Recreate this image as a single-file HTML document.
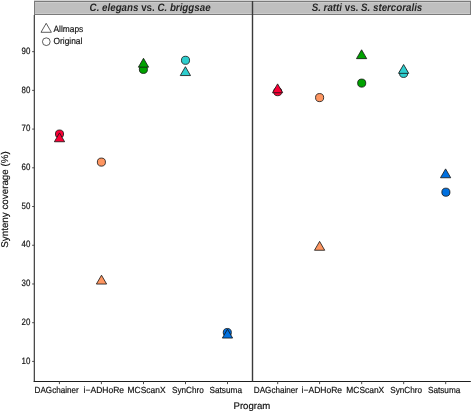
<!DOCTYPE html>
<html><head><meta charset="utf-8"><title>Synteny coverage</title><style>
html,body{margin:0;padding:0;background:#fff;}
body{width:472px;height:412px;overflow:hidden;}
svg{display:block;}
text{font-family:"Liberation Sans",Arial,Helvetica,sans-serif;text-rendering:geometricPrecision;;stroke-width:0.18px;}
.tk,.lg,.ti{stroke:#111;}
.tk{fill:#111;}
.lg{fill:#111;}
.ti{fill:#111;}
.st{font-weight:bold;font-style:italic;fill:#262626;}
</style></head><body>
<svg width="472" height="412" viewBox="0 0 472 412">
<rect width="472" height="412" fill="#fff"/>
<rect x="34" y="0" width="437" height="1.2" fill="#d2d2d2"/>
<rect x="34.50" y="1.50" width="218.00" height="13.00" fill="#BFBFBF" stroke="#7a7a7a" stroke-width="1.00"/>
<rect x="252.50" y="1.50" width="218.00" height="13.00" fill="#BFBFBF" stroke="#7a7a7a" stroke-width="1.00"/>
<rect x="35.00" y="2.0" width="217.00" height="1.0" fill="#cdcdcd"/>
<rect x="35.00" y="13.0" width="217.00" height="1.0" fill="#cbcbcb"/>
<rect x="253.00" y="2.0" width="217.00" height="1.0" fill="#cdcdcd"/>
<rect x="253.00" y="13.0" width="217.00" height="1.0" fill="#cbcbcb"/>
<text x="89.60" y="11.00" font-size="10.80" class="st" textLength="121.00" lengthAdjust="spacingAndGlyphs"><tspan>C. elegans</tspan><tspan font-style="normal"> vs. </tspan><tspan>C. briggsae</tspan></text>
<text x="311.70" y="11.00" font-size="10.80" class="st" textLength="110.60" lengthAdjust="spacingAndGlyphs"><tspan>S. ratti</tspan><tspan font-style="normal"> vs. </tspan><tspan>S. stercoralis</tspan></text>
<line x1="34.35" y1="15" x2="34.35" y2="382.10" stroke="#4a4a4a" stroke-width="1.30"/>
<line x1="33.70" y1="381.45" x2="470.8" y2="381.45" stroke="#1e1e1e" stroke-width="1.10"/>
<line x1="252.50" y1="1" x2="252.50" y2="381.45" stroke="#3a3a3a" stroke-width="1.40"/>
<line x1="32.15" y1="51.65" x2="34.35" y2="51.65" stroke="#4a4a4a" stroke-width="1.00"/>
<text x="30.30" y="53.85" font-size="9.20" class="tk" text-anchor="end" textLength="8.80" lengthAdjust="spacingAndGlyphs">90</text>
<line x1="32.15" y1="90.37" x2="34.35" y2="90.37" stroke="#4a4a4a" stroke-width="1.00"/>
<text x="30.30" y="92.57" font-size="9.20" class="tk" text-anchor="end" textLength="8.80" lengthAdjust="spacingAndGlyphs">80</text>
<line x1="32.15" y1="129.09" x2="34.35" y2="129.09" stroke="#4a4a4a" stroke-width="1.00"/>
<text x="30.30" y="131.29" font-size="9.20" class="tk" text-anchor="end" textLength="8.80" lengthAdjust="spacingAndGlyphs">70</text>
<line x1="32.15" y1="167.81" x2="34.35" y2="167.81" stroke="#4a4a4a" stroke-width="1.00"/>
<text x="30.30" y="170.01" font-size="9.20" class="tk" text-anchor="end" textLength="8.80" lengthAdjust="spacingAndGlyphs">60</text>
<line x1="32.15" y1="206.53" x2="34.35" y2="206.53" stroke="#4a4a4a" stroke-width="1.00"/>
<text x="30.30" y="208.73" font-size="9.20" class="tk" text-anchor="end" textLength="8.80" lengthAdjust="spacingAndGlyphs">50</text>
<line x1="32.15" y1="245.25" x2="34.35" y2="245.25" stroke="#4a4a4a" stroke-width="1.00"/>
<text x="30.30" y="247.45" font-size="9.20" class="tk" text-anchor="end" textLength="8.80" lengthAdjust="spacingAndGlyphs">40</text>
<line x1="32.15" y1="283.97" x2="34.35" y2="283.97" stroke="#4a4a4a" stroke-width="1.00"/>
<text x="30.30" y="286.17" font-size="9.20" class="tk" text-anchor="end" textLength="8.80" lengthAdjust="spacingAndGlyphs">30</text>
<line x1="32.15" y1="322.69" x2="34.35" y2="322.69" stroke="#4a4a4a" stroke-width="1.00"/>
<text x="30.30" y="324.89" font-size="9.20" class="tk" text-anchor="end" textLength="8.80" lengthAdjust="spacingAndGlyphs">20</text>
<line x1="32.15" y1="361.41" x2="34.35" y2="361.41" stroke="#4a4a4a" stroke-width="1.00"/>
<text x="30.30" y="363.61" font-size="9.20" class="tk" text-anchor="end" textLength="8.80" lengthAdjust="spacingAndGlyphs">10</text>
<line x1="59.40" y1="381.45" x2="59.40" y2="384.15" stroke="#4a4a4a" stroke-width="1.00"/>
<text x="34.60" y="392.85" font-size="8.85" class="tk" textLength="44.20" lengthAdjust="spacingAndGlyphs">DAGchainer</text>
<line x1="101.40" y1="381.45" x2="101.40" y2="384.15" stroke="#4a4a4a" stroke-width="1.00"/>
<text x="83.60" y="392.85" font-size="8.85" class="tk" textLength="40.50" lengthAdjust="spacingAndGlyphs">i−ADHoRe</text>
<line x1="143.50" y1="381.45" x2="143.50" y2="384.15" stroke="#4a4a4a" stroke-width="1.00"/>
<text x="127.60" y="392.85" font-size="8.85" class="tk" textLength="37.90" lengthAdjust="spacingAndGlyphs">MCScanX</text>
<line x1="185.50" y1="381.45" x2="185.50" y2="384.15" stroke="#4a4a4a" stroke-width="1.00"/>
<text x="172.00" y="392.85" font-size="8.85" class="tk" textLength="31.80" lengthAdjust="spacingAndGlyphs">SynChro</text>
<line x1="227.50" y1="381.45" x2="227.50" y2="384.15" stroke="#4a4a4a" stroke-width="1.00"/>
<text x="209.50" y="392.85" font-size="8.85" class="tk" textLength="32.50" lengthAdjust="spacingAndGlyphs">Satsuma</text>
<line x1="277.70" y1="381.45" x2="277.70" y2="384.15" stroke="#4a4a4a" stroke-width="1.00"/>
<text x="253.80" y="392.85" font-size="8.85" class="tk" textLength="44.20" lengthAdjust="spacingAndGlyphs">DAGchainer</text>
<line x1="319.60" y1="381.45" x2="319.60" y2="384.15" stroke="#4a4a4a" stroke-width="1.00"/>
<text x="301.60" y="392.85" font-size="8.85" class="tk" textLength="40.50" lengthAdjust="spacingAndGlyphs">i−ADHoRe</text>
<line x1="361.70" y1="381.45" x2="361.70" y2="384.15" stroke="#4a4a4a" stroke-width="1.00"/>
<text x="346.30" y="392.85" font-size="8.85" class="tk" textLength="37.90" lengthAdjust="spacingAndGlyphs">MCScanX</text>
<line x1="403.70" y1="381.45" x2="403.70" y2="384.15" stroke="#4a4a4a" stroke-width="1.00"/>
<text x="390.20" y="392.85" font-size="8.85" class="tk" textLength="31.80" lengthAdjust="spacingAndGlyphs">SynChro</text>
<line x1="445.70" y1="381.45" x2="445.70" y2="384.15" stroke="#4a4a4a" stroke-width="1.00"/>
<text x="427.90" y="392.85" font-size="8.85" class="tk" textLength="32.50" lengthAdjust="spacingAndGlyphs">Satsuma</text>
<text x="251.90" y="409.00" font-size="9.60" class="ti" text-anchor="middle">Program</text>
<text transform="translate(7.60,199.50) rotate(-90)" font-size="9.80" class="ti" text-anchor="middle">Synteny coverage (%)</text>
<polygon points="46.20,23.31 51.39,32.29 41.01,32.29" fill="none" stroke="#333" stroke-width="0.80" stroke-linejoin="round"/>
<circle cx="46.30" cy="41.70" r="3.85" fill="none" stroke="#333" stroke-width="0.80"/>
<text x="53.50" y="32.00" font-size="9.00" class="lg" textLength="29.70" lengthAdjust="spacingAndGlyphs">Allmaps</text>
<text x="53.50" y="44.00" font-size="9.00" class="lg" textLength="28.80" lengthAdjust="spacingAndGlyphs">Original</text>
<circle cx="59.50" cy="134.00" r="4.05" fill="#FA0035" stroke="#111" stroke-width="0.80"/>
<circle cx="101.40" cy="162.10" r="4.05" fill="#FE9661" stroke="#111" stroke-width="0.80"/>
<circle cx="143.40" cy="69.40" r="4.05" fill="#00A200" stroke="#111" stroke-width="0.80"/>
<circle cx="185.50" cy="60.30" r="4.05" fill="#2ECECE" stroke="#111" stroke-width="0.80"/>
<circle cx="227.30" cy="332.50" r="4.05" fill="#0070E0" stroke="#111" stroke-width="0.80"/>
<circle cx="277.70" cy="91.70" r="4.05" fill="#FA0035" stroke="#111" stroke-width="0.80"/>
<circle cx="319.60" cy="97.60" r="4.05" fill="#FE9661" stroke="#111" stroke-width="0.80"/>
<circle cx="361.70" cy="83.10" r="4.05" fill="#00A200" stroke="#111" stroke-width="0.80"/>
<circle cx="403.60" cy="73.40" r="4.05" fill="#2ECECE" stroke="#111" stroke-width="0.80"/>
<circle cx="445.90" cy="192.20" r="4.05" fill="#0070E0" stroke="#111" stroke-width="0.80"/>
<polygon points="59.50,132.89 64.62,141.75 54.38,141.75" fill="#FA0035" stroke="#111" stroke-width="0.80" stroke-linejoin="round"/>
<polygon points="101.50,275.19 106.62,284.05 96.38,284.05" fill="#FE9661" stroke="#111" stroke-width="0.80" stroke-linejoin="round"/>
<polygon points="143.50,58.29 148.62,67.15 138.38,67.15" fill="#00A200" stroke="#111" stroke-width="0.80" stroke-linejoin="round"/>
<polygon points="185.40,66.69 190.52,75.55 180.28,75.55" fill="#2ECECE" stroke="#111" stroke-width="0.80" stroke-linejoin="round"/>
<polygon points="227.50,329.19 232.62,338.05 222.38,338.05" fill="#0070E0" stroke="#111" stroke-width="0.80" stroke-linejoin="round"/>
<polygon points="277.60,83.89 282.72,92.75 272.48,92.75" fill="#FA0035" stroke="#111" stroke-width="0.80" stroke-linejoin="round"/>
<polygon points="319.60,241.39 324.72,250.25 314.48,250.25" fill="#FE9661" stroke="#111" stroke-width="0.80" stroke-linejoin="round"/>
<polygon points="361.60,49.79 366.72,58.65 356.48,58.65" fill="#00A200" stroke="#111" stroke-width="0.80" stroke-linejoin="round"/>
<polygon points="403.60,64.49 408.72,73.35 398.48,73.35" fill="#2ECECE" stroke="#111" stroke-width="0.80" stroke-linejoin="round"/>
<polygon points="445.60,168.89 450.72,177.75 440.48,177.75" fill="#0070E0" stroke="#111" stroke-width="0.80" stroke-linejoin="round"/>
</svg>
</body></html>
